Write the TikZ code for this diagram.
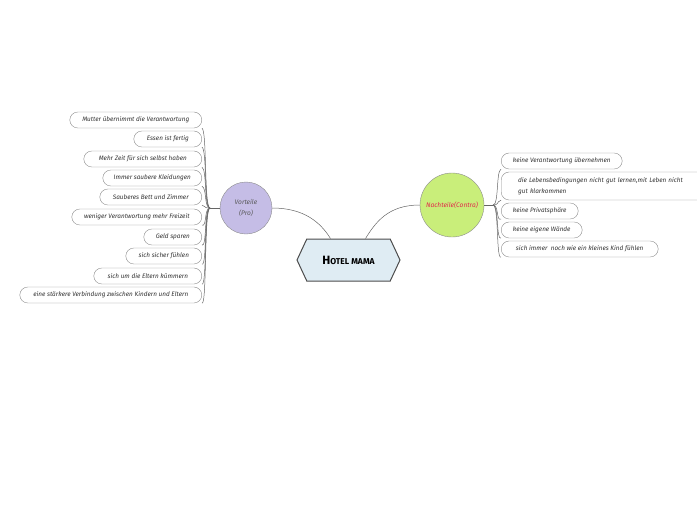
\documentclass[tikz,border=0pt]{standalone}
\usepackage{fontspec}
\setmainfont{Fira Sans}
\usetikzlibrary{shapes.symbols}
\definecolor{lila}{HTML}{C5BDE6}
\definecolor{gruen}{HTML}{C9EE7A}
\definecolor{hellblau}{HTML}{DFECF3}
\definecolor{rot}{HTML}{E2264A}
\begin{document}
\begin{tikzpicture}[x=1pt, y=-1pt,
                  blatt/.style={draw=black!45, fill=white, rounded corners=8pt, minimum height=16pt,
                                inner sep=0pt, text=black!80, font=\fontsize{6.4}{11}\selectfont\itshape},
                  ast/.style={draw=black!60, line width=0.5pt},
                  kreis/.style={circle, draw=black!45, inner sep=0pt, font=\fontsize{6.6}{10.5}\selectfont\itshape}]
\useasboundingbox (0,0) rectangle (697,520);
\node[signal, signal to=east and west, signal pointer angle=130, draw=black!70, line width=1pt,
      fill=hellblau, minimum width=103pt, minimum height=42pt] (hotel) at (348.5,260)
      {\bfseries{\fontsize{12}{12}\selectfont H}{\fontsize{8.5}{12}\selectfont OTEL MAMA}};
\node[kreis, fill=lila, minimum size=52pt, text=black!65, align=center] (vor) at (246,208) {Vorteile\\(Pro)};
\node[kreis, fill=gruen, minimum size=64pt, text=rot] (nach) at (452,205) {Nachteile(Contra)};
\coordinate (vhub) at (210,208);
\coordinate (nhub) at (493,205);
\draw[ast] (vor.west) -- (vhub);
\draw[ast] (nach.east) -- (nhub);
\draw[ast] (vor.east) .. controls +(32,0) and +(-10,-16) .. ([xshift=-18pt]hotel.north);
\draw[ast] ([xshift=17pt]hotel.north) .. controls +(10,-16) and +(-32,0) .. (nach.west);
% Pro
\foreach \i/\y/\x/\t in {1/120/70/Mutter übernimmt die Verantwortung, 2/139/134/Essen ist fertig,
    3/159/84/Mehr Zeit für sich selbst haben, 4/178/103/Immer saubere Kleidungen,
    5/197/100/Sauberes Bett und Zimmer, 6/217/72/weniger Verantwortung mehr Freizeit,
    7/237/144/Geld sparen, 8/256/126/sich sicher fühlen, 9/276/94/sich um die Eltern kümmern,
    10/295/20/eine stärkere Verbindung zwischen Kindern und Eltern}
  {\node[blatt, minimum width=202-\x, anchor=east] (v\i) at (202,\y) {\t};
   \draw[ast] (vhub) .. controls +(-6,0) and +(5,2) .. (v\i.south east);}
% Contra
\foreach \i/\y/\w/\t in {1/161/121/keine Verantwortung übernehmen, 3/211/77/keine Privatsphäre,
    4/230/81/keine eigene Wände, 5/249/157/sich immer\ \ noch wie ein kleines Kind fühlen}
  {\node[blatt, minimum width=\w, anchor=west] (n\i) at (501,\y) {\t};
   \draw[ast] (nhub) .. controls +(6,0) and +(-5,2) .. (n\i.south west);}
\node[blatt, minimum width=210pt, minimum height=28pt, inner xsep=17pt, text width=176pt,
      align=left, anchor=west] (n2) at (501,186)
      {die Lebensbedingungen nicht gut lernen,mit Leben nicht\\gut klarkommen};
\draw[ast] (nhub) .. controls +(6,0) and +(-5,2) .. (n2.south west);
\end{tikzpicture}
\end{document}
